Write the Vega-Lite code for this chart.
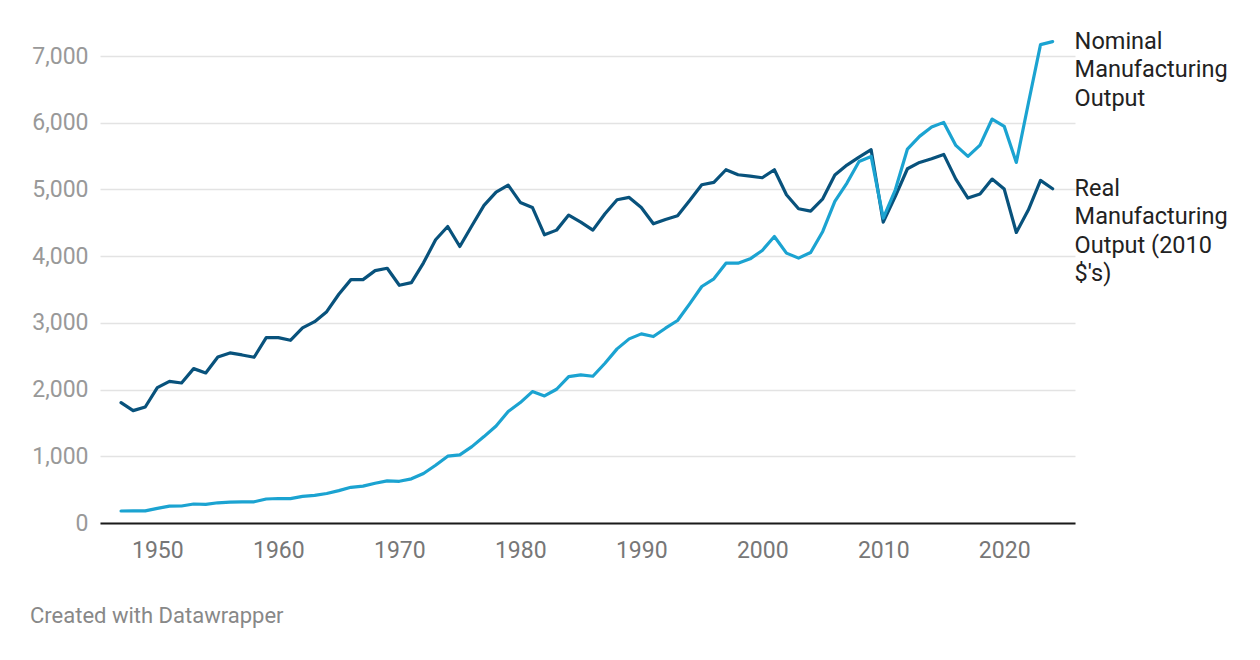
{
  "$schema": "https://vega.github.io/schema/vega-lite/v6.json",
  "autosize": {"type": "none"},
  "width": 975,
  "height": 467,
  "padding": {"left": 100, "top": 56, "right": 185, "bottom": 137},
  "background": "white",
  "config": {"view": {"stroke": null}, "font": "Roboto"},
  "title": {
    "text": "Created with Datawrapper",
    "orient": "bottom",
    "anchor": "start",
    "frame": "group",
    "dx": -70,
    "offset": 44,
    "fontSize": 22,
    "fontWeight": "normal",
    "color": "#888888",
    "font": "Roboto"
  },
  "data": {
    "values": [
      {"year": 1947, "series": "Real\nManufacturing\nOutput (2010\n$'s)", "value": 1804},
      {"year": 1948, "series": "Real\nManufacturing\nOutput (2010\n$'s)", "value": 1684},
      {"year": 1949, "series": "Real\nManufacturing\nOutput (2010\n$'s)", "value": 1739},
      {"year": 1950, "series": "Real\nManufacturing\nOutput (2010\n$'s)", "value": 2029},
      {"year": 1951, "series": "Real\nManufacturing\nOutput (2010\n$'s)", "value": 2124},
      {"year": 1952, "series": "Real\nManufacturing\nOutput (2010\n$'s)", "value": 2099},
      {"year": 1953, "series": "Real\nManufacturing\nOutput (2010\n$'s)", "value": 2314},
      {"year": 1954, "series": "Real\nManufacturing\nOutput (2010\n$'s)", "value": 2249},
      {"year": 1955, "series": "Real\nManufacturing\nOutput (2010\n$'s)", "value": 2489},
      {"year": 1956, "series": "Real\nManufacturing\nOutput (2010\n$'s)", "value": 2549},
      {"year": 1957, "series": "Real\nManufacturing\nOutput (2010\n$'s)", "value": 2519},
      {"year": 1958, "series": "Real\nManufacturing\nOutput (2010\n$'s)", "value": 2484},
      {"year": 1959, "series": "Real\nManufacturing\nOutput (2010\n$'s)", "value": 2779},
      {"year": 1960, "series": "Real\nManufacturing\nOutput (2010\n$'s)", "value": 2779},
      {"year": 1961, "series": "Real\nManufacturing\nOutput (2010\n$'s)", "value": 2739},
      {"year": 1962, "series": "Real\nManufacturing\nOutput (2010\n$'s)", "value": 2924},
      {"year": 1963, "series": "Real\nManufacturing\nOutput (2010\n$'s)", "value": 3018},
      {"year": 1964, "series": "Real\nManufacturing\nOutput (2010\n$'s)", "value": 3168},
      {"year": 1965, "series": "Real\nManufacturing\nOutput (2010\n$'s)", "value": 3429},
      {"year": 1966, "series": "Real\nManufacturing\nOutput (2010\n$'s)", "value": 3648},
      {"year": 1967, "series": "Real\nManufacturing\nOutput (2010\n$'s)", "value": 3648},
      {"year": 1968, "series": "Real\nManufacturing\nOutput (2010\n$'s)", "value": 3783},
      {"year": 1969, "series": "Real\nManufacturing\nOutput (2010\n$'s)", "value": 3818},
      {"year": 1970, "series": "Real\nManufacturing\nOutput (2010\n$'s)", "value": 3563},
      {"year": 1971, "series": "Real\nManufacturing\nOutput (2010\n$'s)", "value": 3603},
      {"year": 1972, "series": "Real\nManufacturing\nOutput (2010\n$'s)", "value": 3900},
      {"year": 1973, "series": "Real\nManufacturing\nOutput (2010\n$'s)", "value": 4245},
      {"year": 1974, "series": "Real\nManufacturing\nOutput (2010\n$'s)", "value": 4445},
      {"year": 1975, "series": "Real\nManufacturing\nOutput (2010\n$'s)", "value": 4145},
      {"year": 1976, "series": "Real\nManufacturing\nOutput (2010\n$'s)", "value": 4455},
      {"year": 1977, "series": "Real\nManufacturing\nOutput (2010\n$'s)", "value": 4760},
      {"year": 1978, "series": "Real\nManufacturing\nOutput (2010\n$'s)", "value": 4960},
      {"year": 1979, "series": "Real\nManufacturing\nOutput (2010\n$'s)", "value": 5065},
      {"year": 1980, "series": "Real\nManufacturing\nOutput (2010\n$'s)", "value": 4805},
      {"year": 1981, "series": "Real\nManufacturing\nOutput (2010\n$'s)", "value": 4730},
      {"year": 1982, "series": "Real\nManufacturing\nOutput (2010\n$'s)", "value": 4320},
      {"year": 1983, "series": "Real\nManufacturing\nOutput (2010\n$'s)", "value": 4390},
      {"year": 1984, "series": "Real\nManufacturing\nOutput (2010\n$'s)", "value": 4615},
      {"year": 1985, "series": "Real\nManufacturing\nOutput (2010\n$'s)", "value": 4510},
      {"year": 1986, "series": "Real\nManufacturing\nOutput (2010\n$'s)", "value": 4390},
      {"year": 1987, "series": "Real\nManufacturing\nOutput (2010\n$'s)", "value": 4635},
      {"year": 1988, "series": "Real\nManufacturing\nOutput (2010\n$'s)", "value": 4845},
      {"year": 1989, "series": "Real\nManufacturing\nOutput (2010\n$'s)", "value": 4880},
      {"year": 1990, "series": "Real\nManufacturing\nOutput (2010\n$'s)", "value": 4730},
      {"year": 1991, "series": "Real\nManufacturing\nOutput (2010\n$'s)", "value": 4485},
      {"year": 1992, "series": "Real\nManufacturing\nOutput (2010\n$'s)", "value": 4550},
      {"year": 1993, "series": "Real\nManufacturing\nOutput (2010\n$'s)", "value": 4605},
      {"year": 1994, "series": "Real\nManufacturing\nOutput (2010\n$'s)", "value": 4835},
      {"year": 1995, "series": "Real\nManufacturing\nOutput (2010\n$'s)", "value": 5070},
      {"year": 1996, "series": "Real\nManufacturing\nOutput (2010\n$'s)", "value": 5105},
      {"year": 1997, "series": "Real\nManufacturing\nOutput (2010\n$'s)", "value": 5295},
      {"year": 1998, "series": "Real\nManufacturing\nOutput (2010\n$'s)", "value": 5220},
      {"year": 1999, "series": "Real\nManufacturing\nOutput (2010\n$'s)", "value": 5200},
      {"year": 2000, "series": "Real\nManufacturing\nOutput (2010\n$'s)", "value": 5175},
      {"year": 2001, "series": "Real\nManufacturing\nOutput (2010\n$'s)", "value": 5295},
      {"year": 2002, "series": "Real\nManufacturing\nOutput (2010\n$'s)", "value": 4920},
      {"year": 2003, "series": "Real\nManufacturing\nOutput (2010\n$'s)", "value": 4710},
      {"year": 2004, "series": "Real\nManufacturing\nOutput (2010\n$'s)", "value": 4675},
      {"year": 2005, "series": "Real\nManufacturing\nOutput (2010\n$'s)", "value": 4860},
      {"year": 2006, "series": "Real\nManufacturing\nOutput (2010\n$'s)", "value": 5215},
      {"year": 2007, "series": "Real\nManufacturing\nOutput (2010\n$'s)", "value": 5365},
      {"year": 2008, "series": "Real\nManufacturing\nOutput (2010\n$'s)", "value": 5485},
      {"year": 2009, "series": "Real\nManufacturing\nOutput (2010\n$'s)", "value": 5595},
      {"year": 2010, "series": "Real\nManufacturing\nOutput (2010\n$'s)", "value": 4510},
      {"year": 2011, "series": "Real\nManufacturing\nOutput (2010\n$'s)", "value": 4895},
      {"year": 2012, "series": "Real\nManufacturing\nOutput (2010\n$'s)", "value": 5310},
      {"year": 2013, "series": "Real\nManufacturing\nOutput (2010\n$'s)", "value": 5405},
      {"year": 2014, "series": "Real\nManufacturing\nOutput (2010\n$'s)", "value": 5460},
      {"year": 2015, "series": "Real\nManufacturing\nOutput (2010\n$'s)", "value": 5525},
      {"year": 2016, "series": "Real\nManufacturing\nOutput (2010\n$'s)", "value": 5155},
      {"year": 2017, "series": "Real\nManufacturing\nOutput (2010\n$'s)", "value": 4870},
      {"year": 2018, "series": "Real\nManufacturing\nOutput (2010\n$'s)", "value": 4930},
      {"year": 2019, "series": "Real\nManufacturing\nOutput (2010\n$'s)", "value": 5155},
      {"year": 2020, "series": "Real\nManufacturing\nOutput (2010\n$'s)", "value": 5005},
      {"year": 2021, "series": "Real\nManufacturing\nOutput (2010\n$'s)", "value": 4355},
      {"year": 2022, "series": "Real\nManufacturing\nOutput (2010\n$'s)", "value": 4695},
      {"year": 2023, "series": "Real\nManufacturing\nOutput (2010\n$'s)", "value": 5135},
      {"year": 2024, "series": "Real\nManufacturing\nOutput (2010\n$'s)", "value": 5010},
      {"year": 1947, "series": "Nominal\nManufacturing\nOutput", "value": 180},
      {"year": 1948, "series": "Nominal\nManufacturing\nOutput", "value": 182},
      {"year": 1949, "series": "Nominal\nManufacturing\nOutput", "value": 182},
      {"year": 1950, "series": "Nominal\nManufacturing\nOutput", "value": 220},
      {"year": 1951, "series": "Nominal\nManufacturing\nOutput", "value": 252},
      {"year": 1952, "series": "Nominal\nManufacturing\nOutput", "value": 255},
      {"year": 1953, "series": "Nominal\nManufacturing\nOutput", "value": 285},
      {"year": 1954, "series": "Nominal\nManufacturing\nOutput", "value": 280},
      {"year": 1955, "series": "Nominal\nManufacturing\nOutput", "value": 303},
      {"year": 1956, "series": "Nominal\nManufacturing\nOutput", "value": 312},
      {"year": 1957, "series": "Nominal\nManufacturing\nOutput", "value": 318},
      {"year": 1958, "series": "Nominal\nManufacturing\nOutput", "value": 318},
      {"year": 1959, "series": "Nominal\nManufacturing\nOutput", "value": 360},
      {"year": 1960, "series": "Nominal\nManufacturing\nOutput", "value": 367},
      {"year": 1961, "series": "Nominal\nManufacturing\nOutput", "value": 365},
      {"year": 1962, "series": "Nominal\nManufacturing\nOutput", "value": 398},
      {"year": 1963, "series": "Nominal\nManufacturing\nOutput", "value": 415},
      {"year": 1964, "series": "Nominal\nManufacturing\nOutput", "value": 442},
      {"year": 1965, "series": "Nominal\nManufacturing\nOutput", "value": 485},
      {"year": 1966, "series": "Nominal\nManufacturing\nOutput", "value": 535},
      {"year": 1967, "series": "Nominal\nManufacturing\nOutput", "value": 552},
      {"year": 1968, "series": "Nominal\nManufacturing\nOutput", "value": 595},
      {"year": 1969, "series": "Nominal\nManufacturing\nOutput", "value": 632},
      {"year": 1970, "series": "Nominal\nManufacturing\nOutput", "value": 625},
      {"year": 1971, "series": "Nominal\nManufacturing\nOutput", "value": 662},
      {"year": 1972, "series": "Nominal\nManufacturing\nOutput", "value": 742},
      {"year": 1973, "series": "Nominal\nManufacturing\nOutput", "value": 865},
      {"year": 1974, "series": "Nominal\nManufacturing\nOutput", "value": 1002},
      {"year": 1975, "series": "Nominal\nManufacturing\nOutput", "value": 1022},
      {"year": 1976, "series": "Nominal\nManufacturing\nOutput", "value": 1145},
      {"year": 1977, "series": "Nominal\nManufacturing\nOutput", "value": 1295},
      {"year": 1978, "series": "Nominal\nManufacturing\nOutput", "value": 1455},
      {"year": 1979, "series": "Nominal\nManufacturing\nOutput", "value": 1670},
      {"year": 1980, "series": "Nominal\nManufacturing\nOutput", "value": 1805},
      {"year": 1981, "series": "Nominal\nManufacturing\nOutput", "value": 1970},
      {"year": 1982, "series": "Nominal\nManufacturing\nOutput", "value": 1905},
      {"year": 1983, "series": "Nominal\nManufacturing\nOutput", "value": 2005},
      {"year": 1984, "series": "Nominal\nManufacturing\nOutput", "value": 2195},
      {"year": 1985, "series": "Nominal\nManufacturing\nOutput", "value": 2220},
      {"year": 1986, "series": "Nominal\nManufacturing\nOutput", "value": 2200},
      {"year": 1987, "series": "Nominal\nManufacturing\nOutput", "value": 2395},
      {"year": 1988, "series": "Nominal\nManufacturing\nOutput", "value": 2610},
      {"year": 1989, "series": "Nominal\nManufacturing\nOutput", "value": 2760},
      {"year": 1990, "series": "Nominal\nManufacturing\nOutput", "value": 2835},
      {"year": 1991, "series": "Nominal\nManufacturing\nOutput", "value": 2795},
      {"year": 1992, "series": "Nominal\nManufacturing\nOutput", "value": 2920},
      {"year": 1993, "series": "Nominal\nManufacturing\nOutput", "value": 3035},
      {"year": 1994, "series": "Nominal\nManufacturing\nOutput", "value": 3285},
      {"year": 1995, "series": "Nominal\nManufacturing\nOutput", "value": 3545},
      {"year": 1996, "series": "Nominal\nManufacturing\nOutput", "value": 3660},
      {"year": 1997, "series": "Nominal\nManufacturing\nOutput", "value": 3895},
      {"year": 1998, "series": "Nominal\nManufacturing\nOutput", "value": 3895},
      {"year": 1999, "series": "Nominal\nManufacturing\nOutput", "value": 3960},
      {"year": 2000, "series": "Nominal\nManufacturing\nOutput", "value": 4085},
      {"year": 2001, "series": "Nominal\nManufacturing\nOutput", "value": 4295},
      {"year": 2002, "series": "Nominal\nManufacturing\nOutput", "value": 4045},
      {"year": 2003, "series": "Nominal\nManufacturing\nOutput", "value": 3970},
      {"year": 2004, "series": "Nominal\nManufacturing\nOutput", "value": 4055},
      {"year": 2005, "series": "Nominal\nManufacturing\nOutput", "value": 4370},
      {"year": 2006, "series": "Nominal\nManufacturing\nOutput", "value": 4820},
      {"year": 2007, "series": "Nominal\nManufacturing\nOutput", "value": 5095},
      {"year": 2008, "series": "Nominal\nManufacturing\nOutput", "value": 5420},
      {"year": 2009, "series": "Nominal\nManufacturing\nOutput", "value": 5495},
      {"year": 2010, "series": "Nominal\nManufacturing\nOutput", "value": 4570},
      {"year": 2011, "series": "Nominal\nManufacturing\nOutput", "value": 4995},
      {"year": 2012, "series": "Nominal\nManufacturing\nOutput", "value": 5605},
      {"year": 2013, "series": "Nominal\nManufacturing\nOutput", "value": 5795},
      {"year": 2014, "series": "Nominal\nManufacturing\nOutput", "value": 5935},
      {"year": 2015, "series": "Nominal\nManufacturing\nOutput", "value": 6005},
      {"year": 2016, "series": "Nominal\nManufacturing\nOutput", "value": 5660},
      {"year": 2017, "series": "Nominal\nManufacturing\nOutput", "value": 5495},
      {"year": 2018, "series": "Nominal\nManufacturing\nOutput", "value": 5665},
      {"year": 2019, "series": "Nominal\nManufacturing\nOutput", "value": 6055},
      {"year": 2020, "series": "Nominal\nManufacturing\nOutput", "value": 5945},
      {"year": 2021, "series": "Nominal\nManufacturing\nOutput", "value": 5405},
      {"year": 2022, "series": "Nominal\nManufacturing\nOutput", "value": 6295},
      {"year": 2023, "series": "Nominal\nManufacturing\nOutput", "value": 7170},
      {"year": 2024, "series": "Nominal\nManufacturing\nOutput", "value": 7215}
    ]
  },
  "encoding": {
    "x": {
      "field": "year",
      "type": "quantitative",
      "scale": {"domain": [1945.26, 2025.85], "nice": false, "zero": false},
      "axis": {
        "title": null,
        "values": [1950, 1960, 1970, 1980, 1990, 2000, 2010, 2020],
        "format": "d",
        "grid": false,
        "ticks": false,
        "domain": true,
        "domainColor": "#1a1a1a",
        "domainWidth": 2,
        "labelFontSize": 23,
        "labelColor": "#777777",
        "labelFont": "Roboto",
        "labelPadding": 16,
        "labelFlush": false
      }
    },
    "y": {
      "field": "value",
      "type": "quantitative",
      "scale": {"domain": [0, 7000], "nice": false},
      "axis": {
        "title": null,
        "values": [0, 1000, 2000, 3000, 4000, 5000, 6000, 7000],
        "format": ",d",
        "grid": true,
        "gridColor": "#e3e3e3",
        "gridWidth": 1.5,
        "ticks": false,
        "domain": false,
        "labelFontSize": 23,
        "labelColor": "#999999",
        "labelFont": "Roboto",
        "labelPadding": 12
      }
    },
    "color": {
      "field": "series",
      "type": "nominal",
      "scale": {
        "domain": ["Nominal\nManufacturing\nOutput", "Real\nManufacturing\nOutput (2010\n$'s)"],
        "range": ["#1ba3d1", "#08527c"]
      },
      "legend": null
    }
  },
  "layer": [
    {
      "mark": {"type": "line", "strokeWidth": 3.2, "strokeJoin": "round", "strokeCap": "round"}
    },
    {
      "transform": [{"filter": "datum.year == 2024"}],
      "mark": {
        "type": "text",
        "align": "left",
        "baseline": "alphabetic",
        "dx": 22,
        "dy": 7,
        "fontSize": 23.5,
        "lineHeight": 28.5,
        "lineBreak": "\n",
        "font": "Roboto",
        "color": "#222222"
      },
      "encoding": {
        "text": {"field": "series"},
        "color": {"value": "#222222"}
      }
    }
  ]
}
